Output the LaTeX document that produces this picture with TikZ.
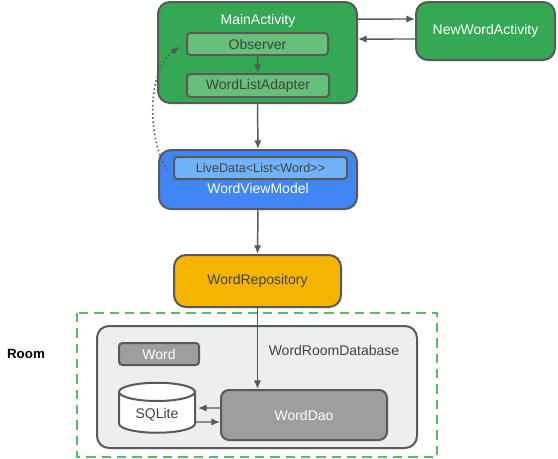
\documentclass[tikz,border=0pt]{standalone}
\usepackage{fontspec}
\setmainfont{Liberation Sans}
\usepackage{xcolor}
\usetikzlibrary{shapes.geometric,arrows.meta}

\definecolor{actgreen}{HTML}{34A853}
\definecolor{litegreen}{HTML}{66C07A}
\definecolor{vmblue}{HTML}{4285F4}
\definecolor{liteblue}{HTML}{70B3FA}
\definecolor{repoyellow}{HTML}{F4B400}
\definecolor{dbgray}{HTML}{EEEEEE}
\definecolor{daogray}{HTML}{9E9E9E}
\definecolor{edgegray}{HTML}{595959}
\definecolor{txtgray}{HTML}{424242}
\definecolor{roomgreen}{HTML}{57BB6A}

\begin{document}
\begin{tikzpicture}[x=0.75pt,y=-0.75pt]
        \fontsize{10.5}{12}\selectfont
        \edef\linebox{1.5pt}
        \tikzstyle{bigbox}=[draw=edgegray,line width=\linebox,rounded corners=9pt,text=white]
        \tikzstyle{innerbox}=[draw=edgegray,line width=\linebox,rounded corners=2.5pt,text=txtgray,inner sep=0pt]
        \tikzstyle{link}=[->,>={Latex[length=6.5pt,width=5.5pt]},edgegray,line width=1.1pt]

        \useasboundingbox (0,0) rectangle (558,458);

        %% Activities
        \node [bigbox,fill=actgreen,minimum width=149.25pt,minimum height=75.75pt] (main) at (257.5,52.5) {};
        \node [text=white] (maintitle) at (258,21) {MainActivity};
        \node [innerbox,fill=litegreen,minimum width=105.75pt,minimum height=16.5pt] (observer) at (257.5,44) {Observer};
        \node [innerbox,fill=litegreen,minimum width=106.5pt,minimum height=17.25pt] (adapter) at (258,85.5) {WordListAdapter};
        \node [bigbox,fill=actgreen,minimum width=104.25pt,minimum height=43.5pt] (newword) at (485.5,31) {NewWordActivity};

        %% ViewModel
        \node [bigbox,fill=vmblue,minimum width=148.5pt,minimum height=44.25pt] (viewmodel) at (258,179.5) {};
        \node [text=white] (vmtitle) at (258,188) {WordViewModel};
        \node [innerbox,fill=liteblue,minimum width=129.75pt,minimum height=16.5pt,font=\fontsize{9.5}{11}\selectfont] (livedata) at (260.5,168) {LiveData<List<Word>{}>};

        %% Repository
        \node [bigbox,fill=repoyellow,text=txtgray,minimum width=125.25pt,minimum height=39pt] (repo) at (257.5,281) {WordRepository};

        %% Room
        \draw [roomgreen,line width=2pt,dash pattern=on 7pt off 4.5pt] (77,313) rectangle (437,457);
        \node [font=\bfseries\fontsize{10}{12}\selectfont] (room) at (26,354) {Room};
        \node [bigbox,fill=dbgray,minimum width=240pt,minimum height=91.5pt] (database) at (257,387) {};
        \node [text=txtgray] (dbtitle) at (334,350) {WordRoomDatabase};
        \node [innerbox,fill=daogray,text=white,minimum width=60pt,minimum height=16.5pt] (word) at (159,354) {Word};
        \node [bigbox,fill=daogray,rounded corners=6pt,minimum width=124.5pt,minimum height=37.5pt] (dao) at (304,415) {WordDao};
        \node [cylinder,shape border rotate=90,aspect=0.35,draw=edgegray,line width=\linebox,fill=white,text=txtgray,minimum width=57pt,minimum height=37.5pt] (sqlite) at (157,415) {SQLite};

        %% Connectors
        \draw [link] (observer) -- (adapter);
        \draw [link] ([yshift=25.1pt]main.east) -- ([yshift=9pt]newword.west);
        \draw [link] ([yshift=-6pt]newword.west) -- ([yshift=10.1pt]main.east);
        \draw [link] (main.south) -- (viewmodel.north);
        \draw [link] (viewmodel.south) -- (repo.north);
        \draw [link] (repo.south) -- (repo.south |- dao.north);
        \draw [link] ([yshift=5.25pt]dao.west) -- ([yshift=5.25pt,xshift=1.5pt]sqlite.east);
        \draw [link] ([yshift=-5.25pt]sqlite.east) -- ([yshift=-5.25pt]dao.west);
        \draw [link,dotted,line width=1.2pt] ([xshift=-4.5pt,yshift=-1.5pt]livedata.west) .. controls (148,140) and (146,72) .. ([xshift=-5pt,yshift=-2pt]observer.west);
\end{tikzpicture}
\end{document}
